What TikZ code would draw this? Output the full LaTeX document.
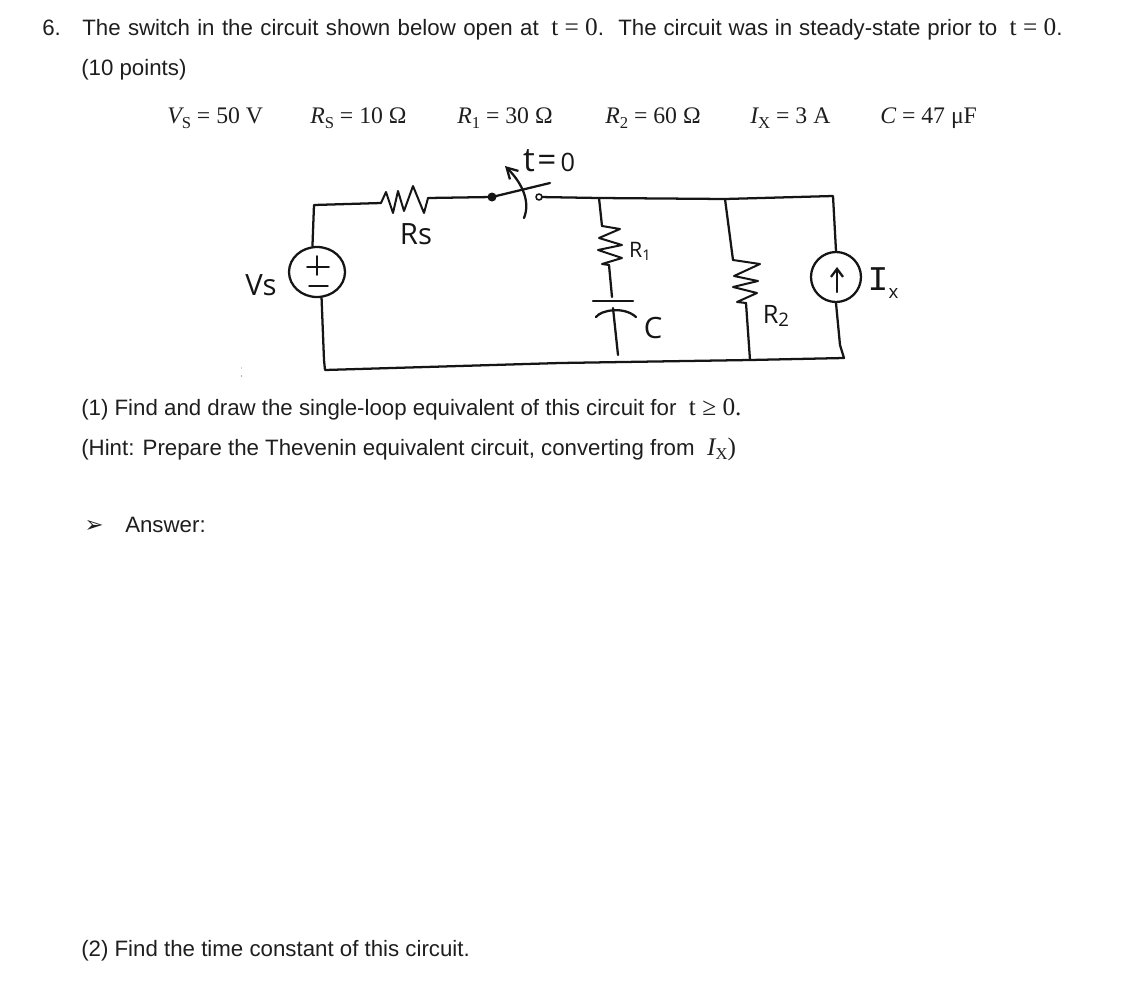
\documentclass[tikz,border=0pt]{standalone}
\usepackage{fontspec}
\setmainfont{Liberation Sans}
\newfontfamily\serfbase{Liberation Serif}
\newfontfamily\hand{Open Sans}
\newfontfamily\djv{DejaVu Sans}
\newfontfamily\monoh{Liberation Mono}
\usetikzlibrary{arrows.meta,shapes.geometric}
\definecolor{ink}{HTML}{1E1E1E}
\definecolor{pen}{HTML}{151515}
\newcommand{\serf}{\spaceskip=0pt\relax\serfbase\fontsize{19pt}{22pt}\selectfont}
\newcommand{\sval}[3]{{\serfbase\itshape #1}\raisebox{-0.22em}{\fontsize{12.5pt}{14pt}\selectfont\serfbase #2}{\serfbase\ = #3}}
\tikzset{
 body/.style={anchor=base west,inner sep=0pt,text=ink,font=\fontsize{16.7pt}{20pt}\selectfont},
 given/.style={anchor=base west,inner sep=0pt,text=ink,font=\fontsize{17.8pt}{20pt}\selectfont},
 wire/.style={draw=pen,line width=1.7pt,line cap=round,line join=round},
 res/.style={wire,line width=1.5pt},
 srcshape/.style={ellipse,draw=pen,line width=1.7pt,inner sep=0pt,minimum width=#1},
 handlabel/.style={inner sep=0pt,text=pen,font=\hand\fontsize{22pt}{24pt}\selectfont},
}
\begin{document}
\begin{tikzpicture}[x=0.75pt,y=-0.75pt]
\useasboundingbox (0,0) rectangle (1147,1000);
% text
\node[body] (n6) at (42,35) {6.};
\node[body] (l1) at (82,35) {{\spaceskip=5.56pt The switch in the circuit shown below open at}\ \ {\serf t = 0}.\hspace{4.5pt} {\spaceskip=5.14pt The circuit was in steady-state prior to}\ \ {\serf t = 0}.};
\node[body] (l2) at (81,75) {(10 points)};
\node[given] (g1) at (167,123) {\sval{V}{S}{50 V}};
\node[given] (g2) at (310,123) {\sval{R}{S}{10 Ω}};
\node[given] (g3) at (457,123) {\sval{R}{1}{30 Ω}};
\node[given] (g4) at (605,123) {\sval{R}{2}{60 Ω}};
\node[given] (g5) at (750,123) {\sval{I}{X}{3 A}};
\node[given] (g6) at (880,123) {{\serfbase\itshape C}{\serfbase\ = 47 μF}};
\node[body] (q1) at (81,415) {(1) Find and draw the single-loop equivalent of this circuit for\ \ {\serf t ≥ 0.}};
\node[body] (q2) at (81,455) {(Hint: Prepare the Thevenin equivalent circuit, converting from\ \ {\serf\itshape I}\raisebox{-0.22em}{\fontsize{12.5pt}{14pt}\selectfont\serfbase X}{\serf)}};
\node[anchor=center,inner sep=0pt,text=ink,font=\djv\fontsize{17pt}{19pt}\selectfont] (bul) at (94,526) {➢};
\node[body] (ans) at (125,532) {Answer:};
\node[body] (q3) at (81,956) {(2) Find the time constant of this circuit.};
% sources
\node[srcshape=56*0.75pt,minimum height=50*0.75pt] (vs) at (317,272) {};
\node[srcshape=50*0.75pt,minimum height=50*0.75pt] (ix) at (836,277) {};
% junctions
\coordinate (tl) at (314,205);
\coordinate (rsa) at (381,203);
\coordinate (rsb) at (428,198);
\coordinate (swa) at (492,197);
\coordinate (swb) at (539,197);
\coordinate (j1) at (599,198);
\coordinate (j2) at (725,199);
\coordinate (tr) at (833,196);
\coordinate (br) at (844,358);
\coordinate (j3) at (750,360);
\coordinate (bl) at (325,370);
\coordinate (r1a) at (602,226);
\coordinate (r1b) at (609,265);
\coordinate (capa) at (612,297);
\coordinate (capb) at (613,308);
\coordinate (capc) at (618,355);
\coordinate (r2a) at (733,260);
\coordinate (r2b) at (746,303);
% wires
\draw[wire] (vs.100) -- (tl) -- (rsa);
\draw[wire] (rsb) -- (swa);
\draw[wire] (swb) -- (j1) -- (j2) -- (tr) -- (ix.north);
\draw[wire] (ix.south) -- (840,345) -- (br) -- (j3) -- (560,363) -- (bl) -- (324,360) -- (vs.280);
\draw[wire] (j1) -- (r1a);
\draw[wire] (r1b) -- (capa);
\draw[wire] (capb) -- (capc);
\draw[wire] (j2) -- (r2a);
\draw[wire] (r2b) -- (j3);
% resistors
\draw[res] (rsa) -- (386,192) -- (393,213) -- (398,191) -- (404,211) -- (413,186) -- (424,213) -- (rsb);
\draw[res] (r1a) -- (620,229) -- (599,238) -- (622,245) -- (598,250) -- (622,258) -- (602,264) -- (r1b);
\draw[res] (r2a) -- (760,264) -- (734,276) -- (758,281) -- (733,287) -- (757,293) -- (737,302) -- (r2b);
% capacitor
\draw[wire] (593,301) -- (633,301);
\draw[wire] (596,317) .. controls (601,310) and (624,306) .. (636,317);
% switch
\fill[pen] (swa) circle (4.5);
\draw[wire] (swa) -- (550,183);
\draw[wire,line width=1.2pt,fill=white] (swb) circle (3);
\draw[wire,-{Straight Barb[length=8pt,width=9pt]}] (524,218) .. controls (530,203) and (524,185) .. (505,166);
% current arrow
\draw[wire,-{Straight Barb[length=6pt,width=9pt]}] (837,292) -- (837,267);
% source signs
\draw[wire,line width=1.4pt] (307,267) -- (329,267) (317,256) -- (317,275);
\draw[wire,line width=1.1pt] (309,286) -- (328,286);
% hand labels
\node[handlabel,anchor=base,font=\hand\fontsize{25pt}{27pt}\selectfont] (t0) at (549,171) {t\kern2pt=\kern3pt{\fontsize{19pt}{21pt}\selectfont 0}};
\node[handlabel] (lvs) at (261,285) {Vs};
\node[handlabel] (lrs) at (416,234) {Rs};
\node[handlabel,font=\hand\fontsize{16pt}{18pt}\selectfont] (lr1) at (640,251) {R\raisebox{-0.15em}{\fontsize{11pt}{12pt}\selectfont 1}};
\node[handlabel] (lc) at (653,328) {C};
\node[handlabel,font=\hand\fontsize{19pt}{21pt}\selectfont] (lr2) at (776,316) {R\raisebox{-0.15em}{\fontsize{14pt}{15pt}\selectfont 2}};
\node[handlabel] (lix) at (883,283) {{\monoh\fontsize{26pt}{28pt}\selectfont I}\raisebox{-0.3em}{\fontsize{14pt}{15pt}\selectfont x}};
% specks
\fill[black!35] (241.5,368) circle (0.6) (241.5,376) circle (0.8);
\end{tikzpicture}
\end{document}
